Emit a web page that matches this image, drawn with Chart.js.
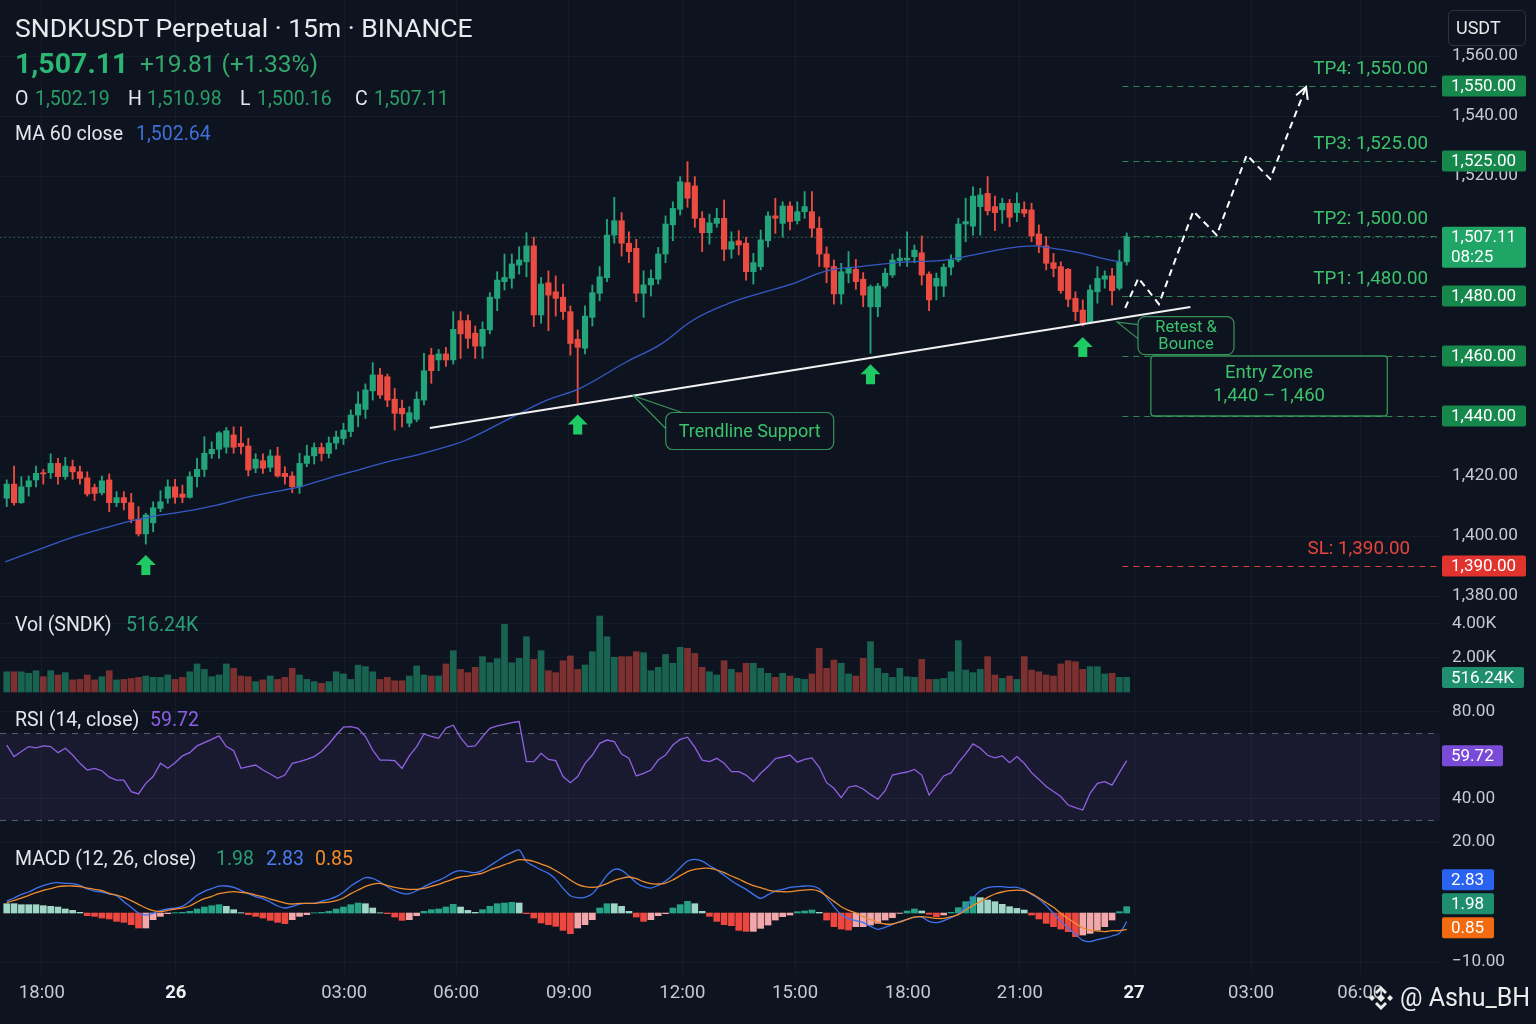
<!DOCTYPE html>
<html lang="en">
<head>
<meta charset="utf-8">
<title>SNDKUSDT Perpetual 15m</title>
<script src="https://cdn.jsdelivr.net/npm/chart.js@4.4.1/dist/chart.umd.min.js"></script>
<style>
  html, body { margin: 0; padding: 0; background: #0e141f; }
  body { width: 1536px; height: 1024px; position: relative; overflow: hidden;
         font-family: Roboto, "Noto Sans", sans-serif; color: #e3e6eb; }
  .pane { position: absolute; left: 0; width: 1536px; }
  .t { position: absolute; white-space: nowrap; line-height: 1; font-size: 19.5px; }
  .g { color: #2a9e66; }
  .usdt { position: absolute; left: 1448px; top: 10px; width: 78px; height: 36px;
          border: 1px solid rgba(255,255,255,0.13); border-radius: 5px; box-sizing: border-box;
          font-size: 18px; line-height: 34px; padding-left: 7px; color: #e6e8ec; }
  .wm { position: absolute; left: 1368px; top: 983px; display: flex; align-items: center;
        font-size: 25px; color: #ececec; gap: 6px; }
</style>
</head>
<body>
<div class="pane" style="top:0;height:603px"><canvas id="cPrice"></canvas></div>
<div class="pane" style="top:603px;height:94px"><canvas id="cVol"></canvas></div>
<div class="pane" style="top:697px;height:151px"><canvas id="cRsi"></canvas></div>
<div class="pane" style="top:848px;height:176px"><canvas id="cMacd"></canvas></div>

<div class="t" style="left:15px;top:15px;font-size:26.5px;color:#e8eaee">SNDKUSDT Perpetual · 15m · BINANCE</div>
<div class="t" style="left:15px;top:50px;font-size:28.5px;font-weight:700;color:#2bb673">1,507.11</div>
<div class="t" style="left:140px;top:52px;font-size:24.5px;color:#34a86d">+19.81 (+1.33%)</div>
<div class="t" style="left:15px;top:89px">O</div>
<div class="t g" style="left:35px;top:89px">1,502.19</div>
<div class="t" style="left:128px;top:89px">H</div>
<div class="t g" style="left:147px;top:89px">1,510.98</div>
<div class="t" style="left:240px;top:89px">L</div>
<div class="t g" style="left:257px;top:89px">1,500.16</div>
<div class="t" style="left:355px;top:89px">C</div>
<div class="t g" style="left:374px;top:89px">1,507.11</div>
<div class="t" style="left:15px;top:124px">MA 60 close</div>
<div class="t" style="left:136px;top:124px;color:#3e70d8">1,502.64</div>

<div class="t" style="left:15px;top:615px">Vol (SNDK)</div>
<div class="t" style="left:126px;top:615px;color:#2a9e78">516.24K</div>
<div class="t" style="left:15px;top:710px">RSI (14, close)</div>
<div class="t" style="left:150px;top:710px;color:#8d5fe6">59.72</div>
<div class="t" style="left:15px;top:849px">MACD (12, 26, close)</div>
<div class="t" style="left:216px;top:849px;color:#2b9d76">1.98</div>
<div class="t" style="left:266px;top:849px;color:#4a7cf0">2.83</div>
<div class="t" style="left:315px;top:849px;color:#f28a2a">0.85</div>

<div class="usdt">USDT</div>
<div class="wm">
  <svg width="26" height="26" viewBox="0 0 26 26"><g fill="#ececec">
    <path d="M13 9l4 4-4 4-4-4z"/><path d="M13 1l6 6-2 2-4-4-4 4-2-2z"/>
    <path d="M13 25l6-6-2-2-4 4-4-4-2 2z"/><path d="M1 13l3-3 3 3-3 3z"/><path d="M25 13l-3-3-3 3 3 3z"/>
  </g></svg>
  <span>@ Ashu_BH</span>
</div>

<script>
// ---- candles (15m, oldest first) ----
const opens = [
  1412.6,1417.3,1411.1,1416.4,1418.7,1421.1,1421.1,1424.2,1419.8,1423.1,
  1421.4,1419.4,1416.2,1414.4,1418.7,1411.1,1412.8,1411.1,1405.6,1400.7,
  1404.4,1409.2,1412.6,1416.4,1414.0,1412.9,1419.8,1422.2,1427.4,1428.9,
  1429.6,1433.7,1430.9,1430.0,1422.6,1425.1,1422.9,1426.7,1420.9,1420.0,
  1416.4,1424.2,1426.7,1429.5,1427.5,1431.0,1432.5,1434.8,1440.3,1442.2,
  1448.4,1453.7,1453.1,1445.6,1442.6,1437.6,1438.9,1445.3,1460.3,1458.7,
  1460.7,1458.7,1471.8,1471.8,1467.6,1463.3,1468.7,1479.2,1484.8,1485.9,
  1490.3,1491.4,1496.7,1473.7,1484.4,1481.4,1479.6,1474.8,1465.6,1462.6,
  1472.9,1480.9,1486.1,1500.3,1505.1,1497.6,1495.9,1480.9,1483.7,1485.6,
  1494.0,1503.7,1508.9,1517.8,1516.7,1505.9,1501.1,1504.2,1505.9,1495.6,
  1498.4,1497.6,1488.1,1489.8,1498.4,1506.7,1504.2,1510.0,1505.1,1508.1,
  1508.1,1502.6,1494.0,1489.8,1480.7,1487.6,1488.9,1485.6,1476.4,1476.4,
  1483.3,1487.0,1491.8,1492.0,1493.1,1494.4,1487.3,1483.3,1483.3,1489.6,
  1492.0,1504.0,1503.3,1509.8,1514.2,1509.8,1508.7,1510.9,1507.8,1508.9,
  1508.7,1500.7,1496.7,1491.1,1489.8,1488.9,1479.2,1475.3,1471.4,1481.4,
  1485.6,1486.7,1482.6,1491.4
];
const highs = [
  1418.7,1423.3,1419.8,1420.0,1423.3,1422.2,1427.4,1425.9,1426.2,1425.3,
  1423.3,1421.4,1417.3,1420.0,1420.7,1414.8,1414.8,1414.2,1409.8,1407.6,
  1411.4,1415.1,1418.7,1418.9,1417.0,1421.4,1425.9,1433.1,1431.4,1434.8,
  1436.2,1436.4,1436.4,1432.6,1427.4,1427.4,1428.7,1429.6,1423.1,1421.4,
  1427.6,1430.3,1431.0,1431.0,1433.0,1435.0,1437.6,1442.0,1448.1,1450.7,
  1457.8,1455.9,1454.0,1449.2,1445.3,1443.1,1448.1,1460.9,1462.6,1462.2,
  1462.9,1474.8,1474.8,1473.7,1470.0,1471.4,1481.1,1488.1,1494.0,1494.0,
  1496.4,1501.1,1499.6,1486.2,1488.4,1486.7,1484.0,1476.7,1468.7,1476.7,
  1483.7,1489.8,1505.6,1512.9,1507.8,1501.4,1498.9,1488.4,1488.7,1496.2,
  1506.7,1511.4,1519.8,1524.8,1519.8,1508.1,1507.3,1509.2,1512.0,1501.4,
  1501.8,1499.6,1494.2,1502.0,1508.1,1512.6,1511.4,1511.4,1511.4,1514.8,
  1514.8,1506.4,1496.4,1492.0,1490.9,1494.8,1492.2,1487.8,1483.7,1484.2,
  1489.2,1494.0,1495.6,1501.4,1497.0,1500.0,1488.1,1487.6,1490.7,1493.7,
  1505.9,1512.6,1516.4,1515.9,1519.8,1513.3,1512.6,1512.2,1514.4,1511.4,
  1510.9,1503.7,1499.8,1494.2,1491.4,1489.2,1481.4,1478.7,1483.7,1489.8,
  1488.4,1489.2,1495.3,1501.0
];
const lows = [
  1409.8,1410.3,1410.9,1413.3,1416.4,1417.3,1419.2,1417.3,1418.9,1418.9,
  1417.3,1413.3,1411.8,1413.7,1408.1,1409.8,1408.7,1404.4,1400.0,1397.3,
  1401.4,1408.1,1410.9,1410.9,1411.1,1412.6,1416.4,1419.8,1425.9,1425.9,
  1427.6,1427.6,1427.4,1420.0,1421.1,1420.9,1421.4,1419.6,1417.3,1414.4,
  1414.2,1423.1,1424.0,1425.0,1426.0,1429.0,1430.5,1433.1,1436.4,1439.2,
  1445.3,1445.9,1443.1,1435.3,1436.4,1436.4,1438.1,1443.7,1450.9,1455.1,
  1456.5,1457.3,1459.2,1462.6,1459.2,1459.2,1467.4,1475.1,1482.0,1482.6,
  1487.3,1486.4,1469.8,1470.9,1468.4,1473.3,1472.2,1460.3,1444.2,1460.7,
  1470.0,1478.4,1484.8,1497.6,1493.3,1491.1,1478.1,1472.9,1480.0,1484.0,
  1491.1,1498.4,1507.0,1509.6,1502.9,1494.8,1497.3,1502.9,1491.8,1492.6,
  1493.7,1485.3,1484.0,1488.7,1496.4,1500.9,1499.6,1502.0,1504.0,1505.9,
  1499.6,1489.8,1484.4,1477.3,1477.3,1484.4,1482.2,1476.4,1460.9,1473.1,
  1482.6,1486.2,1490.0,1489.8,1491.1,1483.7,1475.1,1478.7,1479.8,1487.0,
  1491.4,1498.1,1500.3,1500.3,1507.0,1501.8,1504.2,1503.1,1504.8,1506.4,
  1498.1,1494.4,1488.7,1486.4,1480.9,1476.4,1471.8,1470.0,1470.9,1477.6,
  1482.6,1477.0,1482.0,1490.3
];
const closes = [
  1417.3,1411.1,1416.4,1418.4,1420.9,1420.7,1424.2,1419.8,1423.3,1421.4,
  1419.2,1414.0,1414.2,1418.4,1411.1,1412.8,1411.1,1405.6,1400.7,1407.0,
  1409.4,1411.4,1416.4,1412.9,1412.9,1419.8,1422.2,1427.6,1428.9,1434.4,
  1435.1,1429.6,1429.8,1422.0,1425.6,1422.6,1426.7,1420.0,1419.8,1416.4,
  1424.2,1426.7,1429.5,1427.5,1431.0,1433.0,1435.3,1440.3,1444.0,1448.7,
  1453.7,1447.0,1445.3,1440.9,1440.7,1441.1,1445.6,1455.1,1455.1,1460.7,
  1458.7,1468.9,1467.4,1465.9,1463.3,1468.9,1479.6,1485.3,1486.2,1490.7,
  1492.0,1496.7,1473.7,1484.0,1480.3,1479.2,1474.8,1464.2,1462.9,1473.3,
  1481.1,1486.4,1500.3,1505.1,1497.6,1494.8,1480.9,1483.7,1485.9,1494.0,
  1504.0,1509.2,1518.1,1512.6,1505.9,1501.1,1504.4,1505.9,1495.6,1498.1,
  1497.0,1488.1,1491.1,1498.7,1506.7,1505.9,1510.0,1504.8,1508.1,1509.8,
  1502.6,1494.0,1489.6,1480.7,1488.1,1489.2,1484.8,1480.3,1483.1,1483.3,
  1487.6,1492.0,1492.6,1492.6,1495.3,1487.0,1478.7,1485.9,1489.6,1492.0,
  1504.0,1504.8,1513.3,1513.7,1508.4,1507.8,1510.9,1506.2,1510.9,1507.6,
  1500.0,1497.0,1490.9,1489.2,1481.8,1478.9,1474.8,1470.9,1482.0,1485.9,
  1486.7,1481.8,1491.4,1499.6
];

// ---- MA 60 at a few candles ----
const maIdx = [-0.2,3.6,8.2,12.7,16.6,19.6,24.1,28.7,33.2,37.8,40.1,44,48,52,56,60,62.8,69.2,73.8,
  78.3,84.7,89.2,93.8,98.4,102.9,107.5,112.0,116.6,122.9,127.5,132.1,136.6,140.2,142.1,145.7,150.3,152];
const maVals = [1391.4,1394.8,1398.9,1402.2,1404.8,1406.4,1408.1,1410.3,1413.1,1415.3,1416.4,1419.3,
  1422.0,1424.7,1427.0,1429.7,1432.0,1439.8,1445.3,1449.2,1458.1,1463.7,1472.0,1477.3,1480.9,1484.2,
  1488.4,1489.8,1491.4,1491.8,1493.7,1495.9,1496.7,1496.2,1494.8,1492.2,1491.4];

// ---- volume (K) ----
const volumesK = [
  1.19,1.19,1.19,1.10,1.25,0.90,1.25,1.00,1.14,0.71, 0.74,1.00,0.71,0.90,1.25,0.71,0.74,0.80,0.86,0.94,
  0.86,0.86,1.00,0.74,0.86,1.19,1.65,1.33,0.90,1.00, 1.65,1.39,0.94,0.90,0.61,0.71,0.94,0.74,0.86,1.39,
  1.00,0.74,0.61,0.51,0.61,1.19,1.06,0.74,1.58,1.49, 1.19,0.74,0.86,0.66,0.66,0.94,1.53,1.00,0.94,0.94,
  1.65,2.43,1.33,1.14,1.45,2.08,1.72,1.96,3.98,1.72, 1.98,3.25,1.92,2.43,1.25,1.14,1.84,2.12,1.33,1.59,
  2.37,4.47,3.25,2.04,2.08,2.08,2.37,2.31,1.25,1.45, 2.21,1.69,2.63,2.57,2.27,1.45,1.19,1.00,1.84,1.33,
  1.14,1.69,1.69,1.39,1.10,0.86,1.10,0.94,0.80,0.74, 1.06,2.57,1.39,1.88,1.69,1.06,0.94,1.98,2.96,1.39,
  1.10,0.86,1.39,0.90,0.86,1.92,0.74,0.74,0.80,1.19, 3.02,1.29,1.14,1.33,2.08,1.00,0.80,0.94,0.74,2.08,
  1.29,1.19,1.00,0.94,1.65,1.84,1.78,1.33,1.49,1.49, 1.06,1.10,0.86,0.86
];

// ---- RSI 14 ----
const rsiVals = [
  64.6,59.3,61.6,63.9,63.3,64.2,63.9,61.1,63.1,60.0, 56.2,53.1,53.9,52.8,49.8,48.5,48.5,43.2,42.1,47.0,
  50.1,56.2,53.9,56.5,59.6,61.1,64.2,65.7,67.2,68.8, 63.9,62.0,53.9,54.7,55.4,53.1,51.3,49.3,50.8,56.2,
  57.0,58.0,59.3,61.6,65.1,69.2,72.8,73.1,72.3,68.5, 62.3,57.7,57.7,57.4,53.9,59.6,63.9,69.7,68.6,67.7,
  72.4,73.7,68.0,63.9,64.2,68.5,72.3,73.4,74.1,74.9, 75.4,57.0,57.0,60.8,58.0,57.4,50.1,47.3,50.1,56.2,
  60.0,65.4,66.9,66.2,60.5,58.5,50.4,51.6,53.1,57.7, 60.0,64.6,67.2,68.2,63.6,57.7,57.0,58.5,56.2,52.4,
  52.4,50.8,47.8,51.6,54.7,58.4,59.1,60.0,56.7,58.0, 58.7,54.4,47.3,44.7,40.4,45.2,45.9,44.4,41.9,39.7,
  43.6,50.8,51.6,52.2,53.4,50.8,41.6,45.8,50.4,51.8, 56.5,60.5,65.1,63.1,59.9,58.7,59.6,56.5,59.3,56.2,
  51.9,48.8,45.5,43.2,40.9,37.0,35.8,34.7,42.4,47.0, 47.8,46.2,51.9,57.4
];

// ---- MACD 12/26 ----
const macdVals = [
  2.45,3.06,3.81,4.29,5.03,5.58,6.05,6.19,6.05,5.99, 5.65,4.90,4.49,4.29,3.88,3.54,2.31,1.16,0.00,-0.41,
  -0.07,0.48,0.82,1.02,1.36,2.38,3.61,4.42,4.97,5.51, 5.51,5.24,4.63,3.95,3.33,2.93,2.24,1.43,1.02,1.36,
  1.84,1.97,1.97,2.38,2.79,3.33,4.22,5.51,6.46,7.21, 7.07,6.33,5.37,4.56,4.01,3.95,4.56,5.37,6.12,6.67,
  7.41,8.30,8.64,8.44,8.23,8.71,9.66,10.61,11.56,12.31, 12.86,10.48,9.59,8.78,8.10,6.87,5.03,3.54,3.13,3.20,
  3.95,5.65,7.69,8.91,8.71,7.55,6.19,5.37,5.10,5.65, 6.53,7.76,9.25,10.61,10.95,10.61,9.66,8.78,7.69,6.60,
  5.65,4.83,3.81,2.99,3.74,4.49,4.83,5.24,5.37,5.51, 5.51,4.97,3.20,1.29,-0.34,-1.16,-1.56,-1.97,-2.72,-3.33,
  -2.93,-2.31,-1.77,-1.29,-0.82,-0.82,-1.70,-1.97,-1.56,-0.95, -0.20,1.22,3.06,4.49,5.17,5.37,5.37,5.24,5.24,4.76,
  3.81,2.86,1.50,-0.07,-1.70,-3.13,-4.35,-5.58,-5.85,-5.44, -5.10,-4.69,-4.15,-1.77
];
const signalVals = [
  2.11,2.59,3.06,3.61,4.15,4.63,4.97,5.37,5.51,5.51, 5.37,5.10,4.83,4.56,4.01,3.67,3.20,2.52,1.77,1.02,
  0.48,0.27,0.54,0.82,1.02,1.43,2.24,2.93,3.40,3.95, 4.22,4.35,4.22,4.08,3.67,3.33,2.86,2.45,2.04,1.84,
  1.97,1.97,1.97,2.11,2.24,2.52,3.06,3.95,4.69,5.44, 5.92,6.05,5.58,5.24,4.97,4.83,4.83,5.03,5.44,5.85,
  6.39,6.94,7.35,7.55,7.82,8.16,8.78,9.32,9.86,10.41, 10.88,10.82,10.54,10.00,9.46,8.64,7.76,6.73,5.85,5.37,
  5.24,5.44,5.99,6.67,7.07,7.35,7.01,6.39,5.99,5.92, 6.12,6.73,7.62,8.44,8.91,9.12,9.12,8.78,8.23,7.55,
  6.94,6.19,5.58,5.17,4.69,4.42,4.35,4.35,4.56,4.69, 4.76,4.42,3.47,2.38,1.29,0.54,0.00,-0.75,-1.36,-1.84,
  -2.24,-2.24,-1.84,-1.29,-0.82,-0.75,-0.88,-1.09,-1.09,-0.75, -0.34,0.61,1.56,2.31,3.20,3.88,4.29,4.56,4.69,4.56,
  3.95,3.06,2.11,1.16,-0.07,-1.16,-2.11,-3.06,-3.47,-3.67, -3.81,-3.61,-3.61,-3.33
];
const histVals = [
  1.90,1.90,1.70,1.70,1.70,1.50,1.36,1.22,0.82,0.54, 0.14,-0.54,-0.68,-1.02,-1.22,-1.70,-1.90,-2.38,-3.06,-3.06,
  -1.36,-0.68,-0.14,0.07,0.14,0.34,0.82,1.22,1.50,1.70, 1.36,0.68,0.07,-0.34,-0.68,-1.02,-1.50,-1.90,-2.18,-1.36,
  -0.68,-0.34,0.05,0.14,0.34,0.82,1.22,1.70,2.04,1.90, 1.02,0.05,-0.14,-0.82,-1.50,-1.36,-0.54,0.34,0.68,0.82,
  1.22,1.77,1.22,0.54,0.14,0.68,1.36,1.90,2.04,2.18, 2.04,-0.14,-1.02,-2.04,-2.38,-2.72,-3.54,-4.22,-3.06,-2.38,
  -1.36,1.02,1.90,1.90,1.36,0.34,-0.82,-1.70,-1.36,-0.54, -0.14,1.02,1.70,2.38,1.90,0.34,-0.68,-1.70,-2.38,-2.59,
  -3.54,-3.74,-3.74,-3.13,-2.45,-1.43,-0.75,-0.41,0.27,0.41, 0.61,0.14,-1.43,-2.79,-3.27,-3.47,-2.79,-2.79,-2.45,-2.11,
  -1.43,-0.95,-0.07,0.41,0.82,0.41,-0.27,-0.75,-0.41,0.14, 1.09,2.31,3.33,3.13,2.65,2.31,1.77,1.29,0.95,0.61,
  -0.41,-1.22,-2.11,-2.79,-3.27,-3.81,-4.83,-4.49,-4.15,-3.47, -2.79,-1.43,0.27,1.29
];

// ---- axis ticks ----
const timeTickIdx = [4.8, 23.1, 46.1, 61.4, 76.8, 92.3, 107.7, 123.1, 138.4, 154, 170, 184.9];
const timeTickLabels = ['18:00', '26', '03:00', '06:00', '09:00', '12:00', '15:00', '18:00', '21:00', '27', '03:00', '06:00'];
const dayLabels = ['26', '27'];
const priceTicks = [1380, 1400, 1420, 1440, 1460, 1480, 1500, 1520, 1540, 1560];
const volTicks = [2, 4];
const rsiTicks = [20, 40, 80];
const macdTicks = [-10];

// ---- trade plan drawn on the chart ----
const levelValues = [1550, 1525, 1500, 1480, 1460, 1440, 1390];
const levelNames = ['TP4', 'TP3', 'TP2', 'TP1', '', '', 'SL'];
const levelTagged = [true, true, false, true, true, true, true];
const levelFromIdx = 152.4;
const entryFromIdx = 156.3, entryToIdx = 188.6, entryHigh = 1460, entryLow = 1440;
const trendIdx = [57.8, 161.7];
const trendVals = [1436, 1476.3];
const pathIdx = [152.8, 154.6, 157.4, 162.1, 165.3, 169.4, 172.6, 177.5];
const pathVals = [1476, 1486, 1477.3, 1508.3, 1500.3, 1527, 1519, 1549.7];
const signalIdx = [19, 78, 118, 147];
const callouts = [
  { text: ['Trendline Support'], at: [101.5, 1435], w: 168, h: 37, tip: [85.6, 1446.8], tail: 'corner', fs: 18, lh: 20 },
  { text: ['Retest &', 'Bounce'], at: [161.1, 1466.8], w: 96, h: 38, tip: [151.7, 1471.3], tail: 'left', fs: 16.5, lh: 17 }
];
const lastPrice = 1507.11, countdown = '08:25';
const lastVolText = '516.24K', rsiLast = 59.72;
const macdLast = [2.83, 1.98, 0.85];
const macdLastColors = ['#2a63f0', '#1f8e6f', '#f26b10'];

// ---- look ----
const BG = '#0e141f';
const FONT = 'Roboto, "Noto Sans", sans-serif';
const UP = '#23a47a', DOWN = '#ec4b41';
const GRID = 'rgba(255,255,255,0.035)';
const TICK = '#c5c9d1';
const GREEN_TXT = '#3cc26c';
const X_MIN = -0.92, X_MAX = 195.8;

const idx = closes.map((_, i) => i);
const isUp = i => closes[i] >= opens[i];
const fmt2 = v => v.toLocaleString('en-US', { minimumFractionDigits: 2, maximumFractionDigits: 2 });
const fmt0 = v => v.toLocaleString('en-US');

function rrect(ctx, x, y, w, h, r) {
  ctx.beginPath();
  ctx.moveTo(x + r, y);
  ctx.arcTo(x + w, y, x + w, y + h, r);
  ctx.arcTo(x + w, y + h, x, y + h, r);
  ctx.arcTo(x, y + h, x, y, r);
  ctx.arcTo(x, y, x + w, y, r);
  ctx.closePath();
}

function axisTag(ctx, x, yc, w, bg, lines) {
  const h = 21 + (lines.length - 1) * 20;
  ctx.fillStyle = bg;
  rrect(ctx, x, yc - 10.5, w, h, 2);
  ctx.fill();
  ctx.fillStyle = '#ffffff';
  ctx.font = `17px ${FONT}`;
  ctx.textAlign = 'left';
  ctx.textBaseline = 'middle';
  lines.forEach((t, k) => ctx.fillText(t, x + 9, yc + 1 + k * 20));
}

function xAxis(labelHeight) {
  return {
    type: 'linear', min: X_MIN, max: X_MAX, offset: false,
    grid: { color: GRID, drawTicks: false, offset: false },
    border: { display: false },
    afterBuildTicks: s => { s.ticks = timeTickIdx.map(v => ({ value: v })); },
    afterFit: s => { s.height = labelHeight; s.paddingLeft = 0; s.paddingRight = 0; },
    ticks: labelHeight ? {
      autoSkip: false, maxRotation: 0, padding: 7,
      color: c => dayLabels.includes(timeTickLabels[c.index]) ? '#eef0f3' : TICK,
      font: c => ({ family: FONT, size: 18.5, weight: dayLabels.includes(timeTickLabels[c.index]) ? '700' : '400' }),
      callback: (v, i) => timeTickLabels[i]
    } : { display: false }
  };
}

function yAxis(min, max, tickVals, fmt) {
  return {
    position: 'right', min, max,
    grid: { color: GRID, drawTicks: false },
    border: { display: false },
    afterBuildTicks: s => { s.ticks = tickVals.map(v => ({ value: v })); },
    afterFit: s => { s.width = 96; s.paddingTop = 0; s.paddingBottom = 0; },
    ticks: { color: TICK, padding: 12, font: { family: FONT, size: 17.2 }, callback: fmt }
  };
}

const baseOptions = (scales) => ({
  responsive: true, maintainAspectRatio: false, animation: false, events: [],
  layout: { padding: 0 },
  plugins: { legend: { display: false }, tooltip: { enabled: false } },
  scales
});

// ---------- price pane ----------
const pricePlugin = {
  id: 'priceMarks',
  beforeDatasetsDraw(chart) {
    const { ctx, chartArea: a, scales: { y } } = chart;
    const yc = Math.round(y.getPixelForValue(closes[closes.length - 1])) + 0.5;
    ctx.save();
    ctx.strokeStyle = 'rgba(46,170,110,0.6)';
    ctx.setLineDash([1.5, 3]);
    ctx.lineWidth = 1;
    ctx.beginPath(); ctx.moveTo(a.left, yc); ctx.lineTo(a.right, yc); ctx.stroke();
    ctx.restore();
  },
  afterDatasetsDraw(chart) {
    const { ctx, chartArea: a, scales: { x, y } } = chart;
    ctx.save();
    // target / stop levels
    levelValues.forEach((v, k) => {
      const yy = Math.round(y.getPixelForValue(v)) + 0.5;
      const sl = levelNames[k] === 'SL';
      ctx.strokeStyle = sl ? 'rgba(229,67,59,0.95)' : 'rgba(56,160,96,0.8)';
      ctx.lineWidth = 1.2;
      ctx.setLineDash([6, 5]);
      ctx.beginPath(); ctx.moveTo(x.getPixelForValue(levelFromIdx), yy); ctx.lineTo(a.right, yy); ctx.stroke();
      if (levelNames[k]) {
        ctx.fillStyle = sl ? '#e8463d' : GREEN_TXT;
        ctx.font = `18.8px ${FONT}`;
        ctx.textAlign = 'right';
        ctx.textBaseline = 'middle';
        ctx.fillText(`${levelNames[k]}: ${fmt2(v)}`, a.right - (sl ? 30 : 12), yy - 17);
      }
    });
    ctx.setLineDash([]);

    // entry zone box
    const ex0 = x.getPixelForValue(entryFromIdx), ex1 = x.getPixelForValue(entryToIdx);
    const ey0 = y.getPixelForValue(entryHigh), ey1 = y.getPixelForValue(entryLow);
    ctx.fillStyle = BG;
    rrect(ctx, ex0, ey0, ex1 - ex0, ey1 - ey0, 3);
    ctx.fill();
    ctx.strokeStyle = 'rgba(56,170,96,0.85)';
    ctx.lineWidth = 1.3;
    ctx.stroke();
    ctx.fillStyle = GREEN_TXT;
    ctx.font = `18.5px ${FONT}`;
    ctx.textAlign = 'center';
    ctx.textBaseline = 'middle';
    ctx.fillText('Entry Zone', (ex0 + ex1) / 2, ey0 + (ey1 - ey0) * 0.29);
    ctx.fillText(`${fmt0(entryLow)} \u2013 ${fmt0(entryHigh)}`, (ex0 + ex1) / 2, ey0 + (ey1 - ey0) * 0.68);

    // callouts
    callouts.forEach(c => {
      const cx = x.getPixelForValue(c.at[0]), cy = y.getPixelForValue(c.at[1]);
      const L = cx - c.w / 2, T = cy - c.h / 2;
      const tx = x.getPixelForValue(c.tip[0]), ty = y.getPixelForValue(c.tip[1]);
      ctx.strokeStyle = 'rgba(60,170,100,0.85)';
      ctx.lineWidth = 1.2;
      ctx.fillStyle = BG;
      rrect(ctx, L, T, c.w, c.h, 7);
      ctx.fill(); ctx.stroke();
      ctx.beginPath();
      if (c.tail === 'left') {
        ctx.moveTo(L, T + 8); ctx.lineTo(tx, ty); ctx.lineTo(L, T + 22);
      } else {
        ctx.moveTo(L + 16, T); ctx.lineTo(tx, ty); ctx.lineTo(L, T + 16);
      }
      ctx.stroke();
      ctx.fillStyle = GREEN_TXT;
      ctx.font = `${c.fs}px ${FONT}`;
      const n = c.text.length;
      c.text.forEach((t, k) => ctx.fillText(t, cx, cy + 1 + (k - (n - 1) / 2) * c.lh));
    });

    // bounce arrows under the lows
    ctx.fillStyle = '#1fc963';
    signalIdx.forEach(i => {
      const ax = x.getPixelForValue(i), top = y.getPixelForValue(lows[i]) + 11;
      ctx.beginPath();
      ctx.moveTo(ax, top); ctx.lineTo(ax + 10, top + 10); ctx.lineTo(ax + 4.5, top + 10);
      ctx.lineTo(ax + 4.5, top + 20); ctx.lineTo(ax - 4.5, top + 20); ctx.lineTo(ax - 4.5, top + 10);
      ctx.lineTo(ax - 10, top + 10); ctx.closePath(); ctx.fill();
    });

    // head of the projected path
    const n = pathIdx.length;
    const x1 = x.getPixelForValue(pathIdx[n - 2]), y1 = y.getPixelForValue(pathVals[n - 2]);
    const x2 = x.getPixelForValue(pathIdx[n - 1]), y2 = y.getPixelForValue(pathVals[n - 1]);
    const ang = Math.atan2(y2 - y1, x2 - x1);
    ctx.strokeStyle = '#ffffff';
    ctx.lineWidth = 2;
    ctx.beginPath();
    ctx.moveTo(x2 - 13 * Math.cos(ang - 0.5), y2 - 13 * Math.sin(ang - 0.5));
    ctx.lineTo(x2, y2);
    ctx.lineTo(x2 - 13 * Math.cos(ang + 0.5), y2 - 13 * Math.sin(ang + 0.5));
    ctx.stroke();
    ctx.restore();
  },
  afterDraw(chart) {
    const { ctx, chartArea: a, scales: { y } } = chart;
    ctx.save();
    levelValues.forEach((v, k) => {
      if (!levelTagged[k]) return;
      axisTag(ctx, a.right + 2, y.getPixelForValue(v), 84, levelNames[k] === 'SL' ? '#e1332d' : '#17884b', [fmt2(v)]);
    });
    axisTag(ctx, a.right + 2, y.getPixelForValue(closes[closes.length - 1]), 84, '#1fa565', [fmt2(lastPrice), countdown]);
    ctx.restore();
  }
};

new Chart(document.getElementById('cPrice'), {
  type: 'bar',
  data: {
    datasets: [
      {
        label: 'wick', data: idx.map(i => ({ x: i, y: [lows[i], highs[i]] })),
        backgroundColor: c => isUp(c.dataIndex) ? UP : DOWN, barThickness: 1.2, grouped: false, order: 4
      },
      {
        label: 'body', data: idx.map(i => ({ x: i, y: [opens[i], closes[i]] })),
        backgroundColor: c => isUp(c.dataIndex) ? UP : DOWN, barThickness: 5.5, minBarLength: 1, grouped: false, order: 3
      },
      {
        type: 'line', label: 'MA 60', data: maIdx.map((v, k) => ({ x: v, y: maVals[k] })),
        borderColor: '#3559c7', borderWidth: 1.3, pointRadius: 0, tension: 0.4, order: 2
      },
      {
        type: 'line', label: 'trend', data: trendIdx.map((v, k) => ({ x: v, y: trendVals[k] })),
        borderColor: '#f2f2f2', borderWidth: 2, pointRadius: 0, order: 1
      },
      {
        type: 'line', label: 'path', data: pathIdx.map((v, k) => ({ x: v, y: pathVals[k] })),
        borderColor: '#ffffff', borderWidth: 2, borderDash: [7, 5], pointRadius: 0, tension: 0, order: 0
      }
    ]
  },
  options: baseOptions({
    x: xAxis(0),
    y: yAxis(1377.67, 1578.67, priceTicks, v => fmt2(v))
  }),
  plugins: [pricePlugin]
});

// ---------- volume pane ----------
new Chart(document.getElementById('cVol'), {
  type: 'bar',
  data: {
    datasets: [{
      data: idx.map(i => ({ x: i, y: volumesK[i] })),
      backgroundColor: c => isUp(c.dataIndex) ? 'rgba(35,164,122,0.55)' : 'rgba(236,75,65,0.5)',
      barThickness: 6
    }]
  },
  options: baseOptions({
    x: xAxis(0),
    y: yAxis(-0.294, 5.235, volTicks, v => v.toFixed(2) + 'K')
  }),
  plugins: [{
    id: 'volTag',
    afterDraw(chart) {
      const { ctx, chartArea: a, scales: { y } } = chart;
      ctx.save();
      axisTag(ctx, a.right + 2, y.getPixelForValue(volumesK[volumesK.length - 1]), 82, '#1f8f6e', [lastVolText]);
      ctx.restore();
    }
  }]
});

// ---------- RSI pane ----------
new Chart(document.getElementById('cRsi'), {
  type: 'line',
  data: {
    datasets: [{
      data: idx.map(i => ({ x: i, y: rsiVals[i] })),
      borderColor: '#8f62e3', borderWidth: 1.3, pointRadius: 0, tension: 0
    }]
  },
  options: baseOptions({
    x: xAxis(0),
    y: yAxis(17.26, 86.69, rsiTicks, v => v.toFixed(2))
  }),
  plugins: [{
    id: 'rsiBand',
    beforeDatasetsDraw(chart) {
      const { ctx, chartArea: a, scales: { y } } = chart;
      const y70 = Math.round(y.getPixelForValue(70)) + 0.5, y30 = Math.round(y.getPixelForValue(30)) + 0.5;
      ctx.save();
      ctx.fillStyle = 'rgba(126,87,194,0.10)';
      ctx.fillRect(a.left, y70, a.right - a.left, y30 - y70);
      ctx.strokeStyle = 'rgba(150,156,172,0.55)';
      ctx.setLineDash([6, 6]);
      ctx.lineWidth = 1;
      [y70, y30].forEach(yy => { ctx.beginPath(); ctx.moveTo(a.left, yy); ctx.lineTo(a.right, yy); ctx.stroke(); });
      ctx.restore();
    },
    afterDraw(chart) {
      const { ctx, chartArea: a, scales: { y } } = chart;
      ctx.save();
      axisTag(ctx, a.right + 2, y.getPixelForValue(rsiLast), 61, '#7a4bd6', [rsiLast.toFixed(2)]);
      ctx.restore();
    }
  }]
});

// ---------- MACD pane ----------
const histColor = i => {
  const v = histVals[i], p = i > 0 ? histVals[i - 1] : v;
  if (v >= 0) return v > p ? '#26a386' : '#9fd6c6';
  return v < p ? '#ee4740' : '#f2a7aa';
};

new Chart(document.getElementById('cMacd'), {
  type: 'bar',
  data: {
    datasets: [
      {
        label: 'hist', data: idx.map(i => ({ x: i, y: histVals[i] })),
        backgroundColor: c => histColor(c.dataIndex), barThickness: 6, order: 2
      },
      {
        type: 'line', label: 'MACD', data: idx.map(i => ({ x: i, y: macdVals[i] })),
        borderColor: '#3f73f0', borderWidth: 1.3, pointRadius: 0, tension: 0.3, order: 1
      },
      {
        type: 'line', label: 'signal', data: idx.map(i => ({ x: i, y: signalVals[i] })),
        borderColor: '#f08c2e', borderWidth: 1.3, pointRadius: 0, tension: 0.3, order: 0
      }
    ]
  },
  options: baseOptions({
    x: xAxis(49),
    y: yAxis(-12.65, 13.27, macdTicks, v => (v < 0 ? '\u2212' : '') + Math.abs(v).toFixed(2))
  }),
  plugins: [{
    id: 'macdTags',
    afterDraw(chart) {
      const { ctx, chartArea: a, scales: { y } } = chart;
      // keep the three tags from overlapping, centred on their values
      const pos = macdLast.map(v => y.getPixelForValue(v));
      const mean = pos.reduce((s, p) => s + p, 0) / pos.length;
      for (let k = 1; k < pos.length; k++) pos[k] = Math.max(pos[k], pos[k - 1] + 24);
      const shift = mean - pos.reduce((s, p) => s + p, 0) / pos.length;
      ctx.save();
      macdLast.forEach((v, k) => axisTag(ctx, a.right + 2, pos[k] + shift, 52, macdLastColors[k], [v.toFixed(2)]));
      ctx.restore();
    }
  }]
});
</script>
</body>
</html>
